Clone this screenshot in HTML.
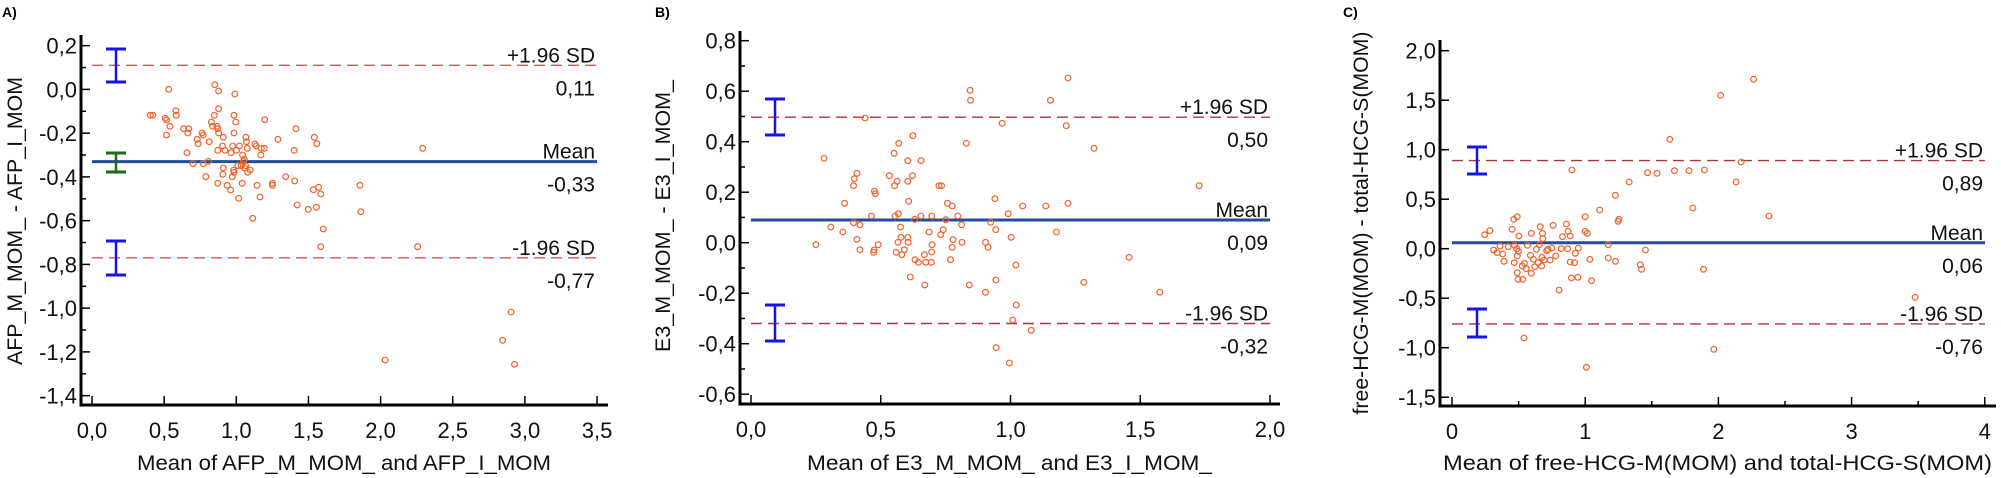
<!DOCTYPE html>
<html><head><meta charset="utf-8"><style>
html,body{margin:0;padding:0;background:#fff;}
svg{display:block;font-family:"Liberation Sans",sans-serif;}
</style></head><body>
<svg id="s" width="2001" height="478" xmlns="http://www.w3.org/2000/svg">
<rect width="2001" height="478" fill="#fff"/>
<text x="2" y="17" font-size="14" font-weight="bold">A)</text>
<text x="655" y="17" font-size="14" font-weight="bold">B)</text>
<text x="1343" y="17" font-size="14" font-weight="bold">C)</text>
</svg>
<script>
var S=document.getElementById('s'),NS='http://www.w3.org/2000/svg';
function el(t,a,txt,parent){var e=document.createElementNS(NS,t);for(var k in a)e.setAttribute(k,a[k]);if(txt!=null)e.textContent=txt;(parent||S).appendChild(e);return e;}
function txt(x,y,s,size,anchor){el('text',{x:x,y:y,'font-size':size,'text-anchor':anchor||'start',fill:'#111'},s);}
function panel(p){
 var X=function(v){return p.x0+(v-p.xmin)*p.xs;}, Y=function(v){return p.y0-v*p.ys;};
 el('line',{x1:p.ax,y1:p.atop,x2:p.ax,y2:p.ay+1.5,stroke:'#000','stroke-width':3});
 el('line',{x1:p.ax,y1:p.ay,x2:p.aright,y2:p.ay,stroke:'#000','stroke-width':3});
 p.yt.forEach(function(v){var y=Y(v);el('line',{x1:p.ax,y1:y,x2:p.ax+9,y2:y,stroke:'#000','stroke-width':1.5});txt(p.ax-4,y+8,p.yl(v),22,'end');});
 p.ym.forEach(function(v){var y=Y(v);el('line',{x1:p.ax,y1:y,x2:p.ax+5,y2:y,stroke:'#000','stroke-width':1.5});});
 p.xt.forEach(function(v){var x=X(v);el('line',{x1:x,y1:p.ay,x2:x,y2:p.ay-9,stroke:'#000','stroke-width':1.5});txt(x,p.ay+33,p.xl(v),22,'middle');});
 (p.xm||[]).forEach(function(v){var x=X(v);el('line',{x1:x,y1:p.ay,x2:x,y2:p.ay-5,stroke:'#000','stroke-width':1.5});});
 [p.up,p.lo].forEach(function(v){var y=Y(v);el('line',{x1:X(0),y1:y,x2:p.lend,y2:y,stroke:p.dc,'stroke-width':1.4,'stroke-dasharray':'11,6'});});
 el('line',{x1:X(0),y1:Y(p.mn),x2:p.lend,y2:Y(p.mn),stroke:'#1f4e9c','stroke-width':3});
 [[p.up,'+1.96 SD',p.upl],[p.mn,'Mean',p.mnl],[p.lo,'-1.96 SD',p.lol]].forEach(function(a){var y=Y(a[0]);txt(p.lx,y-3,a[1],21,'end');txt(p.lx,y+30,a[2],21,'end');});
 p.eb.forEach(function(b){var c=b[2]||'#1414e6';el('line',{x1:p.ebx,y1:b[0],x2:p.ebx,y2:b[1],stroke:c,'stroke-width':2.5});el('line',{x1:p.ebx-10,y1:b[0],x2:p.ebx+10,y2:b[0],stroke:c,'stroke-width':3});el('line',{x1:p.ebx-10,y1:b[1],x2:p.ebx+10,y2:b[1],stroke:c,'stroke-width':3});});
 p.pts.forEach(function(q){el('ellipse',{cx:p.off+q[0]*p.zf,cy:q[1]/3,rx:2.9,ry:2.8,fill:'none',stroke:'#f0622a','stroke-width':1.2});});
 el('text',{x:0,y:0,'font-size':21,'text-anchor':'middle',fill:'#111',transform:'translate('+p.ytx+','+p.yty+') rotate(-90)',textLength:p.ytl,lengthAdjust:'spacingAndGlyphs'},p.yt_);
 el('text',{x:p.xtx,y:470,'font-size':21,fill:'#111',textLength:p.xtl,lengthAdjust:'spacingAndGlyphs'},p.xt_);
}
function c1(v){return v.toFixed(1).replace('.',',').replace('-0,0','0,0');}
var ys=[];for(var i=-14;i<=2;i+=2)ys.push(i/10);var ym=[];for(var i=-13;i<=1;i+=2)ym.push(i/10);
panel({x0:92,xmin:0,xs:144.3,y0:89.4,ys:218.75,ax:81,atop:35,ay:405,aright:608,
 yt:ys,ym:ym,yl:c1,xt:[0,0.5,1,1.5,2,2.5,3,3.5],xl:c1,
 up:0.11,mn:-0.33,lo:-0.77,upl:'0,11',mnl:'-0,33',lol:'-0,77',dc:'#e05050',lend:597,lx:595,
 ebx:116,eb:[[49,82],[153,172,'#1a6a1a'],[241,275]],
 off:0,zf:0.427,
 ytx:22,yty:221,ytl:288,yt_:'AFP_M_MOM_ - AFP_I_MOM',xtx:137,xtl:414,xt_:'Mean of AFP_M_MOM_ and AFP_I_MOM',
 pts:[[395,268],[503,254],[512,273],[550,282],[352,346],[358,346],[387,355],[390,360],[412,332],[413,346],[398,379],[390,405],[430,386],[442,386],[440,399],[473,399],[476,405],[462,418],[464,431],[438,458],[452,491],[490,425],[495,366],[498,379],[502,346],[512,326],[508,379],[510,386],[512,399],[523,412],[521,438],[510,451],[527,451],[541,458],[545,438],[548,399],[548,346],[552,366],[554,451],[561,438],[568,465],[572,478],[570,484],[565,497],[575,497],[547,510],[557,497],[586,510],[580,517],[573,504],[548,517],[544,530],[523,504],[522,523],[482,530],[476,491],[488,484],[510,550],[532,556],[540,570],[559,595],[567,550],[576,412],[577,425],[579,445],[597,432],[600,438],[612,445],[619,445],[611,465],[620,359],[651,418],[602,556],[609,591],[638,550],[638,556],[669,530],[690,543],[693,386],[689,451],[696,615],[722,628],[741,622],[734,569],[746,562],[751,582],[736,412],[742,431],[757,687],[751,740],[843,556],[845,635],[592,655],[990,445],[978,740],[902,1080],[1197,936],[1177,1021],[1205,1093]]});
var ysB=[];for(var i=-6;i<=8;i+=2)ysB.push(i/10);var ymB=[];for(var i=-5;i<=7;i+=2)ymB.push(i/10);
panel({x0:751,xmin:0,xs:259.5,y0:242.7,ys:252.5,ax:740,atop:31,ay:404,aright:1280,
 yt:ysB,ym:ymB,yl:c1,xt:[0,0.5,1,1.5,2],xl:c1,
 up:0.497,mn:0.09,lo:-0.32,upl:'0,50',mnl:'0,09',lol:'-0,32',dc:'#b03535',lend:1270,lx:1268,
 ebx:775,eb:[[99,135],[305,341]],
 off:660,zf:0.4272,
 ytx:670,yty:216,ytl:272,yt_:'E3_M_MOM_ - E3_I_MOM_',xtx:807,xtl:405,xt_:'Mean of E3_M_MOM_ and E3_I_MOM_',
 pts:[[365,734],[384,475],[400,681],[428,696],[432,610],[453,557],[455,536],[461,520],[453,668],[461,718],[468,675],[468,749],[480,354],[495,648],[502,573],[504,581],[501,750],[511,734],[500,757],[537,527],[548,460],[549,557],[550,648],[555,544],[559,430],[558,641],[563,681],[564,712],[557,727],[553,757],[566,764],[572,749],[580,482],[580,544],[582,604],[580,712],[581,727],[591,527],[592,407],[596,658],[597,779],[605,787],[611,482],[611,648],[586,831],[619,764],[620,855],[622,787],[630,696],[636,648],[636,756],[637,734],[635,787],[653,557],[659,557],[657,704],[663,689],[669,659],[673,610],[684,618],[686,719],[684,742],[680,779],[697,648],[706,674],[707,727],[717,430],[726,271],[727,301],[724,855],[762,727],[762,877],[768,742],[774,667],[784,596],[786,689],[786,840],[787,1043],[801,370],[815,641],[822,712],[833,795],[834,915],[826,960],[818,1089],[849,618],[869,991],[903,618],[914,301],[928,696],[951,377],[955,234],[955,610],[992,847],[1016,445],[1098,772],[1170,877],[1262,557]]});
panel({x0:1452,xmin:0,xs:133.2,y0:248.7,ys:99,ax:1440,atop:40,ay:406,aright:1996,
 yt:[-1.5,-1,-0.5,0,0.5,1,1.5,2],ym:[],yl:c1,xt:[0,1,2,3,4],xm:[0.5,1.5,2.5,3.5],xl:function(v){return ''+v;},
 up:0.89,mn:0.06,lo:-0.76,upl:'0,89',mnl:'0,06',lol:'-0,76',dc:'#b03535',lend:1985,lx:1983,
 ebx:1477,eb:[[147,174],[309,337]],
 off:1330,zf:0.4274,
 ytx:1368,yty:223,ytl:383,yt_:'free-HCG-M(MOM) - total-HCG-S(MOM)',xtx:1443,xtl:549,xt_:'Mean of free-HCG-M(MOM) and total-HCG-S(MOM)',
 pts:[[362,704],[374,692],[383,750],[391,758],[398,738],[404,762],[407,784],[417,740],[426,688],[430,658],[438,650],[432,736],[437,746],[442,708],[441,754],[438,768],[431,788],[438,818],[440,838],[451,838],[450,798],[455,790],[459,806],[462,736],[469,766],[471,700],[471,820],[476,778],[479,800],[483,748],[487,788],[490,734],[492,680],[498,716],[497,700],[496,772],[495,798],[501,780],[507,752],[510,748],[515,780],[519,744],[522,676],[528,768],[536,870],[541,746],[544,710],[553,672],[556,746],[557,694],[562,708],[562,786],[565,834],[566,510],[572,788],[574,760],[581,744],[580,832],[597,650],[597,694],[602,700],[608,778],[612,842],[631,630],[651,734],[651,774],[668,586],[668,784],[674,664],[676,658],[700,546],[726,794],[729,808],[738,750],[743,518],[765,520],[795,418],[806,512],[840,512],[849,624],[876,510],[874,808],[898,1048],[914,286],[950,546],[962,486],[991,238],[1027,648],[1369,892],[454,1014],[600,1102]]});
</script>
</body></html>
